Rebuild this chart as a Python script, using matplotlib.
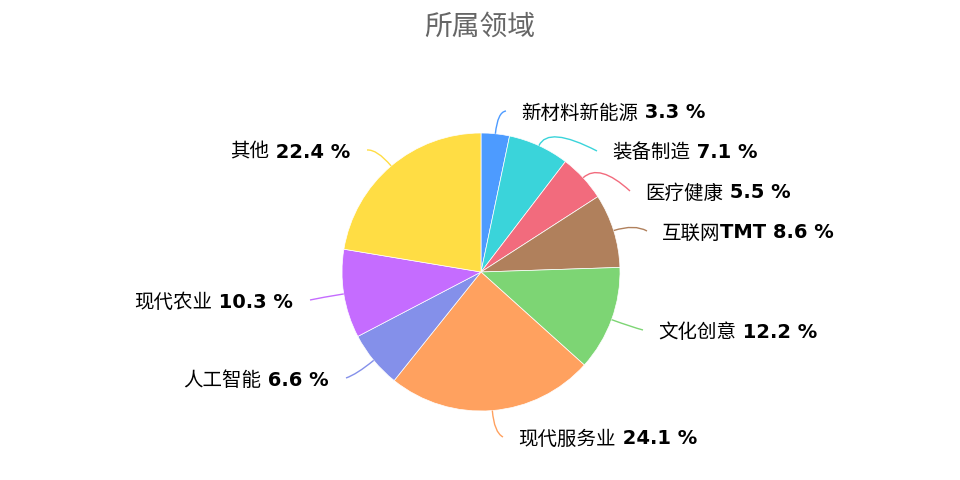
import matplotlib
matplotlib.use('Agg')
import matplotlib.pyplot as plt
import numpy as np
from matplotlib.path import Path
from matplotlib.patches import PathPatch

# 数据
categories = ['新材料新能源', '装备制造', '医疗健康', '互联网TMT', '文化创意',
              '现代服务业', '人工智能', '现代农业', '其他']
values = [3.3, 7.1, 5.5, 8.6, 12.2, 24.1, 6.6, 10.3, 22.4]
colors = ['#4d9bff', '#3ad4da', '#f26b7d', '#b0805c', '#7dd574',
          '#ffa15f', '#8490ea', '#c56cff', '#ffdd44']

# 标签位置 (像素, 图片坐标), R=文字在右侧, L=文字在左侧
label_pos = [(521, 113, 'R'), (612, 153, 'R'), (645, 193, 'R'), (662, 233, 'R'),
             (658, 332, 'R'), (518, 439, 'R'), (329, 380, 'L'), (293, 302, 'L'),
             (350, 152, 'L')]

cjk = ['Noto Sans CJK SC', 'DejaVu Sans']
plt.rcParams['font.family'] = cjk

W, H = 960, 480
fig = plt.figure(figsize=(9.6, 4.8), dpi=100)
ax = fig.add_axes([0, 0, 1, 1])
ax.set_xlim(0, W)
ax.set_ylim(0, H)
ax.set_aspect('equal')
ax.axis('off')

cx, cy, r = 481, H - 272, 139
wedges, _ = ax.pie(values, colors=colors, startangle=90, counterclock=False,
                   center=(cx, cy), radius=r, frame=True,
                   wedgeprops=dict(edgecolor='white', linewidth=0.5))
ax.set_xlim(0, W)
ax.set_ylim(0, H)
ax.axis('off')

for w, name, val, (tx, ty, side) in zip(wedges, categories, values, label_pos):
    ang = np.deg2rad((w.theta1 + w.theta2) / 2)
    ty = H - ty
    p0 = (cx + r * np.cos(ang), cy + r * np.sin(ang))
    p1 = (cx + (r + 22) * np.cos(ang), cy + (r + 22) * np.sin(ang))
    if side == 'R':
        p2 = (tx - 15, ty + 2)
    else:
        p2 = (tx + 17, ty + 2)
    path = Path([p0, p1, p2], [Path.MOVETO, Path.CURVE3, Path.CURVE3])
    ax.add_patch(PathPatch(path, facecolor='none', edgecolor=w.get_facecolor(), lw=1))

    # 中文部分常规, 其余部分加粗
    i = 0
    while i < len(name) and ord(name[i]) > 127:
        i += 1
    reg = name[:i]
    bold = ' ' + name[i:] + (' ' if name[i:] else '') + f'{val} %'
    bold = bold.replace('  ', ' ')
    if side == 'R':
        t1 = ax.text(tx, ty, reg, ha='left', va='center', fontsize=14, color='black')
        ax.annotate(bold.replace(' ', '', 1) if name[i:] else bold, xy=(1, 0.5), xycoords=t1,
                    ha='left', va='center', fontsize=14, fontweight='bold',
                    family=['DejaVu Sans'], color='black')
    else:
        t1 = ax.text(tx, ty, bold, ha='right', va='center', fontsize=14,
                     fontweight='bold', family=['DejaVu Sans'], color='black')
        ax.annotate(reg, xy=(0, 0.5), xycoords=t1, ha='right', va='center',
                    fontsize=14, color='black')

fig.text(0.5, 1 - 27 / H, '所属领域', ha='center', va='center', fontsize=20,
         color='#666666', fontweight='light')

plt.savefig('out.png', dpi=100)
